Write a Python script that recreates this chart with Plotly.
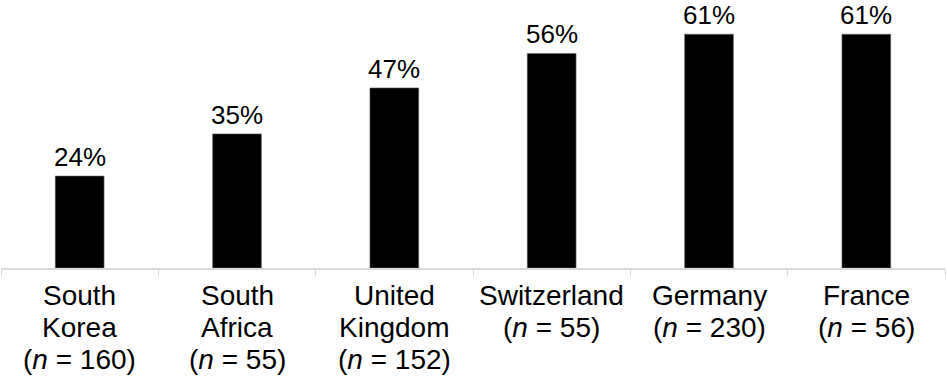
import plotly.graph_objects as go

countries = ["South Korea", "South Africa", "United Kingdom", "Switzerland", "Germany", "France"]
sample_n = [160, 55, 152, 55, 230, 56]
percent = [24, 35, 47, 56, 61, 61]

FONT = "Liberation Sans, Arial, Helvetica, sans-serif"
LINE_GAP = 32

fig = go.Figure()
fig.add_trace(go.Bar(
    x=countries, y=percent,
    marker=dict(color="black", line=dict(color="#666666", width=0.6)),
    width=0.31,
    hoverinfo="skip",
))

# value labels above bars
for c, v in zip(countries, percent):
    fig.add_annotation(x=c, y=v, text=f"{v}%", showarrow=False,
                       yanchor="bottom", yshift=2,
                       font=dict(size=26, color="black", family=FONT))

# category labels (one annotation per line for tight line spacing)
for c, n in zip(countries, sample_n):
    lines = c.split(" ") + [f"(<i>n</i> = {n})"]
    for i, line in enumerate(lines):
        fig.add_annotation(x=c, xref="x", y=0, yref="paper", text=line,
                           showarrow=False, yanchor="top", xanchor="center",
                           yshift=-10 - i * LINE_GAP,
                           font=dict(size=28, color="black", family=FONT))

fig.update_layout(
    width=947, height=382,
    margin=dict(l=1, r=2, t=4, b=114),
    plot_bgcolor="white", paper_bgcolor="white",
    showlegend=False,
    font=dict(family=FONT, size=24, color="black"),
)
fig.update_xaxes(
    showline=True, linecolor="#d9d9d9", linewidth=1.5,
    ticks="outside", tickson="boundaries", ticklen=6, tickcolor="#d9d9d9",
    showticklabels=False, showgrid=False,
)
fig.update_yaxes(range=[0, 68.9], visible=False, showgrid=False)

fig.write_html("out.html", config={"displayModeBar": False},
               post_script="document.body.style.margin='0';")
